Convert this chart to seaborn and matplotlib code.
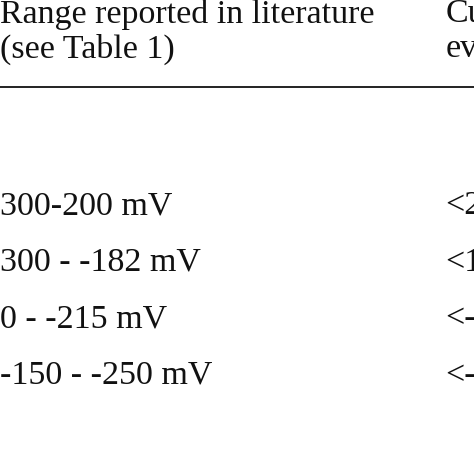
import matplotlib.pyplot as plt
import seaborn as sns

# table content (cropped at right edge like the source)
header_left = ["Range reported in literature", "(see Table 1)"]
header_right = ["Cu", "eva"]
ranges = ["300-200 mV", "300 - -182 mV", "0 - -215 mV", "-150 - -250 mV"]
current = ["<2", "<1", "<-", "<-:"]

sns.set_theme(style="white")
plt.rcParams['font.family'] = ['Liberation Serif', 'DejaVu Serif']

fig = plt.figure(figsize=(4.74, 4.74), dpi=100)
ax = fig.add_axes([0, 0, 1, 1])
ax.set_xlim(0, 474)
ax.set_ylim(474, 0)
ax.axis("off")

fs = 24.5
for i, (l, r) in enumerate(zip(header_left, header_right)):
    y = 14 + i * 35
    ax.text(0, y, l, fontsize=fs, va="center", ha="left", color="#111111")
    ax.text(446, y, r, fontsize=fs, va="center", ha="left", color="#111111")

ax.plot([0, 474], [87, 87], color="#111111", lw=1.3)

for i, (l, r) in enumerate(zip(ranges, current)):
    y = 206 + i * 56.5
    ax.text(0, y, l, fontsize=fs, va="center", ha="left", color="#111111")
    ax.text(445, y, r, fontsize=fs, va="center", ha="left", color="#111111")

plt.savefig("out.png", dpi=100)
